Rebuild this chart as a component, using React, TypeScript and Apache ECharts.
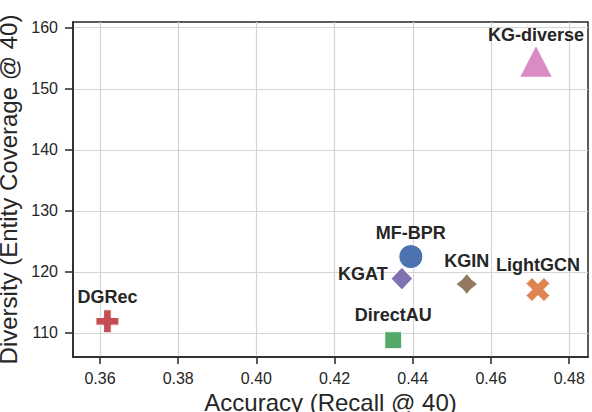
import React, { useEffect, useRef } from "react";
import * as echarts from "echarts";

const METHODS = ["KG-diverse", "MF-BPR", "KGAT", "KGIN", "LightGCN", "DirectAU", "DGRec"];
const RECALL = [0.4715, 0.4395, 0.4372, 0.4538, 0.472, 0.435, 0.3619];
const COVERAGE = [154.5, 122.5, 118.9, 118.0, 117.1, 108.8, 111.9];

const X_TICKS = [0.36, 0.38, 0.4, 0.42, 0.44, 0.46, 0.48];
const Y_TICKS = [110, 120, 130, 140, 150, 160];

const FONT = "'Liberation Sans', Arial, Helvetica, sans-serif";
const INK = "#262626";

const STAR4 = "path://M0,-10 Q4,-4 10,0 Q4,4 0,10 Q-4,4 -10,0 Q-4,-4 0,-10 Z";
const PLUS = "path://M-1,-3 L1,-3 L1,-1 L3,-1 L3,1 L1,1 L1,3 L-1,3 L-1,1 L-3,1 L-3,-1 L-1,-1 Z";
const CROSS = "path://M2,-4 L4,-2 L2,0 L4,2 L2,4 L0,2 L-2,4 L-4,2 L-2,0 L-4,-2 L-2,-4 L0,-2 Z";

// marker look per method, same order as METHODS
const STYLES: { color: string; symbol: string; size: number[]; offset: number[] }[] = [
  { color: "#DA8BC3", symbol: "triangle", size: [33, 32], offset: [0, -26] },
  { color: "#4C72B0", symbol: "circle", size: [24, 24], offset: [0, -24] },
  { color: "#8172B3", symbol: "diamond", size: [22, 23], offset: [-39, -5] },
  { color: "#937860", symbol: STAR4, size: [22, 21], offset: [0, -23] },
  { color: "#DD8452", symbol: CROSS, size: [24, 24], offset: [0, -25] },
  { color: "#55A868", symbol: "rect", size: [17, 17], offset: [0, -25] },
  { color: "#C44E52", symbol: PLUS, size: [23, 23], offset: [0, -24] },
];

const App: React.FC = () => {
  const chartRef = useRef<HTMLDivElement | null>(null);

  useEffect(() => {
    document.body.style.margin = "0";
    if (!chartRef.current) return;
    const chart = echarts.init(chartRef.current, undefined, { renderer: "svg" });

    const data = METHODS.map((name, i) => ({
      name,
      value: [RECALL[i], COVERAGE[i]],
      symbol: STYLES[i].symbol,
      symbolSize: STYLES[i].size,
      itemStyle: { color: STYLES[i].color, borderColor: "#ffffff", borderWidth: 1, opacity: 1 },
      label: { offset: STYLES[i].offset },
    }));

    const options: echarts.EChartsOption = {
      animation: false,
      textStyle: { fontFamily: FONT },
      grid: {
        left: 73,
        right: 4,
        top: 22,
        bottom: 55,
        containLabel: false,
        outerBoundsMode: "none",
        show: true,
        borderColor: INK,
        borderWidth: 1.5,
        backgroundColor: "transparent",
      } as any,
      xAxis: {
        type: "value",
        min: 0.3531,
        max: 0.4848,
        name: "Accuracy (Recall @ 40)",
        nameLocation: "middle",
        nameGap: 32,
        nameTextStyle: { fontSize: 24, color: INK, fontFamily: FONT },
        axisLine: { show: true, lineStyle: { color: INK, width: 1.5 } },
        axisTick: {
          show: true,
          length: 7,
          customValues: X_TICKS,
          lineStyle: { color: INK, width: 1.5 },
        },
        axisLabel: {
          customValues: X_TICKS,
          fontSize: 16,
          color: INK,
          margin: 13,
          formatter: (v: number) => v.toFixed(2),
        },
        splitLine: { show: true, lineStyle: { color: "#d4d4d4", width: 1.2 } },
      },
      yAxis: {
        type: "value",
        min: 106.05,
        max: 160.94,
        name: "Diversity (Entity Coverage @ 40)",
        nameLocation: "middle",
        nameGap: 44,
        nameTextStyle: { fontSize: 24, color: INK, fontFamily: FONT },
        axisLine: { show: true, lineStyle: { color: INK, width: 1.5 } },
        axisTick: {
          show: true,
          length: 8,
          customValues: Y_TICKS,
          lineStyle: { color: INK, width: 1.5 },
        },
        axisLabel: {
          customValues: Y_TICKS,
          fontSize: 16,
          color: INK,
          margin: 15,
        },
        splitLine: { show: true, lineStyle: { color: "#d4d4d4", width: 1.2 } },
      },
      series: [
        {
          type: "scatter",
          data,
          itemStyle: { opacity: 1 },
          label: {
            show: true,
            position: "inside",
            formatter: "{b}",
            fontSize: 18,
            fontWeight: "bold",
            color: INK,
            opacity: 1,
            fontFamily: FONT,
          },
        },
      ],
    };

    chart.setOption(options);
    return () => chart.dispose();
  }, []);

  return <div ref={chartRef} style={{ width: 592, height: 412 }} />;
};

export default App;
